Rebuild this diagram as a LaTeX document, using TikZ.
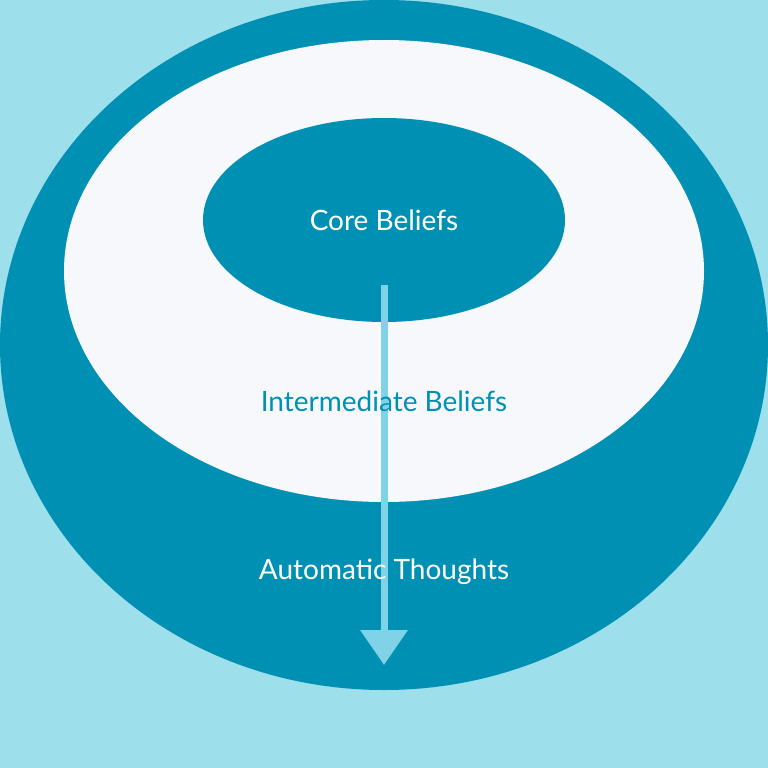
\documentclass[tikz,border=0pt]{standalone}
\usepackage{fontspec}
\setmainfont{Lato}
\usetikzlibrary{positioning, arrows.meta, shapes.geometric}
\definecolor{skyback}{HTML}{9DE0EC}
\definecolor{deepteal}{HTML}{0090B4}
\definecolor{paleband}{HTML}{F7F8FC}
\definecolor{arrowblue}{HTML}{80D2E6}
\begin{document}
\begin{tikzpicture}[x=1pt, y=-1pt, >=Stealth,
      ring/.style={ellipse, inner sep=0pt},
      lbl/.style={font=\fontsize{28}{32}\selectfont}]

    \fill[skyback] (0,0) rectangle (768,768);
    \useasboundingbox (0,0) rectangle (768,768);

    \node[ring, fill=deepteal, minimum width=768pt, minimum height=690pt] (outer) at (384,345) {};
    \node[ring, fill=paleband, minimum width=640pt, minimum height=462pt] (middle) at (384,271) {};
    \node[ring, fill=deepteal, minimum width=362pt, minimum height=204pt] (core) at (384,220) {};

    \coordinate (top) at (384,285);
    \coordinate (tip) at (384,665);
    \draw[arrowblue, line width=7pt, -{Triangle[width=46pt, length=35pt]}] (top) -- (tip);

    \node[lbl, text=white] at (core.center) {Core Beliefs};
    \node[lbl, text=deepteal] (inter) at (384,401) {Intermediate Beliefs};
    \node[lbl, text=white] (auto) at (384,572) {Automatic Thoughts};
  \end{tikzpicture}
\end{document}
